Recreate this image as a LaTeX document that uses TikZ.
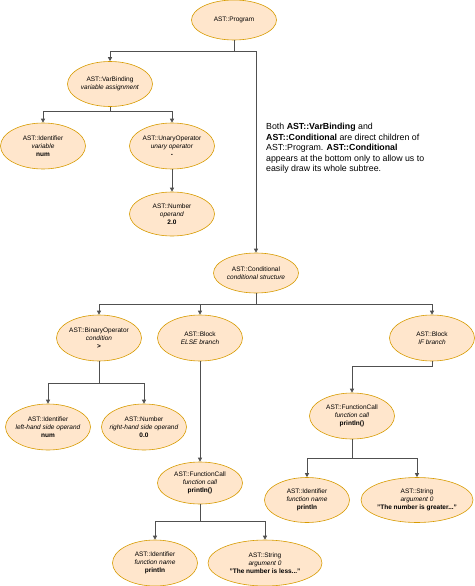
\documentclass[tikz,border=0pt]{standalone}
\usepackage{fontspec}
\setmainfont{Liberation Sans}
\usetikzlibrary{shapes.geometric,arrows.meta}

\definecolor{blobfill}{HTML}{FFE6CC}
\definecolor{blobline}{HTML}{D79B00}
\definecolor{edge}{HTML}{505050}

\begin{document}
\begin{tikzpicture}[
    x=1pt, y=-1pt,
    blob/.style={ellipse, draw=blobline, fill=blobfill, line width=0.6pt, minimum width=85pt, minimum height=45pt, inner sep=0pt},
    every label/.style={align=center, font=\fontsize{6.5}{8}\selectfont, inner sep=0pt},
    arr/.style={-{Triangle[length=4pt,width=4pt]}, draw=edge, line width=0.8pt}
]
\useasboundingbox (0,0) rectangle (474,586);

\node[blob, minimum height=40pt, label={center:AST::Program}] (prog) at (234,20) {};
\node[blob, label={center:AST::VarBinding\\\textit{variable assignment}}] (vbind) at (110,84) {};
\node[blob, minimum height=46pt, label={center:AST::Identifier\\\textit{variable}\\\textbf{num}}] (idvar) at (43,146) {};
\node[blob, minimum height=46pt, label={center:AST::UnaryOperator\\\textit{unary operator}\\\textbf{-}}] (unop) at (172,146) {};
\node[blob, minimum height=44pt, label={center:AST::Number\\\textit{operand}\\\textbf{2.0}}] (numop) at (172,214) {};

\node[anchor=north west, inner sep=0pt, align=left, font=\fontsize{8.8}{10.5}\selectfont] (note) at (266,123)
  {Both \textbf{AST::VarBinding} and\\\textbf{AST::Conditional} are direct children of\\AST::Program. \textbf{AST::Conditional}\\appears at the bottom only to allow us to\\easily draw its whole subtree.};

\node[blob, minimum height=40pt, label={center:AST::Conditional\\\textit{conditional structure}}] (cond) at (256,273) {};
\node[blob, minimum height=46pt, label={center:AST::BinaryOperator\\\textit{condition}\\\textbf{>}}] (binop) at (99,338) {};
\node[blob, minimum height=46pt, label={center:AST::Block\\\textit{ELSE branch}}] (elseblk) at (200,338) {};
\node[blob, minimum height=46pt, label={center:AST::Block\\\textit{IF branch}}] (ifblk) at (432,338) {};

\node[blob, minimum height=46pt, label={center:AST::Identifier\\\textit{left-hand side operand}\\\textbf{num}}] (lhs) at (48,427) {};
\node[blob, minimum height=46pt, label={center:AST::Number\\\textit{right-hand side operand}\\\textbf{0.0}}] (rhs) at (144,427) {};

\node[blob, minimum height=42pt, label={center:AST::FunctionCall\\\textit{function call}\\\textbf{println()}}] (callelse) at (200,483) {};
\node[blob, minimum height=46pt, label={center:AST::Identifier\\\textit{function name}\\\textbf{println}}] (idelse) at (155,563) {};
\node[blob, minimum height=46pt, minimum width=114pt, label={center:AST::String\\\textit{argument 0}\\\textbf{"The number is less..."}}] (strelse) at (265,563) {};

\node[blob, minimum height=46pt, label={center:AST::FunctionCall\\\textit{function call}\\\textbf{println()}}] (callif) at (352,416) {};
\node[blob, label={center:AST::Identifier\\\textit{function name}\\\textbf{println}}] (idif) at (307,500) {};
\node[blob, minimum width=112pt, label={center:AST::String\\\textit{argument 0}\\\textbf{"The number is greater..."}}] (strif) at (417,500) {};

\draw[arr] (prog.south) -- ++(0,11) -| (vbind.north);
\draw[arr] (prog.south) -- ++(0,11) -| (cond.north);
\draw[arr] (vbind.south) -- ++(0,5) -| (idvar.north);
\draw[arr] (vbind.south) -- ++(0,5) -| (unop.north);
\draw[arr] (unop) -- (numop);

\draw[arr] (cond.south) -- ++(0,11) -| (binop.north);
\draw[arr] (cond.south) -- ++(0,11) -| (elseblk.north);
\draw[arr] (cond.south) -- ++(0,11) -| (ifblk.north);
\draw[arr] (binop.south) -- ++(0,22) -| (lhs.north);
\draw[arr] (binop.south) -- ++(0,22) -| (rhs.north);
\draw[arr] (elseblk) -- (callelse);
\draw[arr] (callelse.south) -- ++(0,17) -| (idelse.north);
\draw[arr] (callelse.south) -- ++(0,17) -| (strelse.north);
\draw[arr] (ifblk.south) -- ++(0,5) -| (callif.north);
\draw[arr] (callif.south) -- ++(0,19) -| (idif.north);
\draw[arr] (callif.south) -- ++(0,19) -| (strif.north);
\end{tikzpicture}
\end{document}
